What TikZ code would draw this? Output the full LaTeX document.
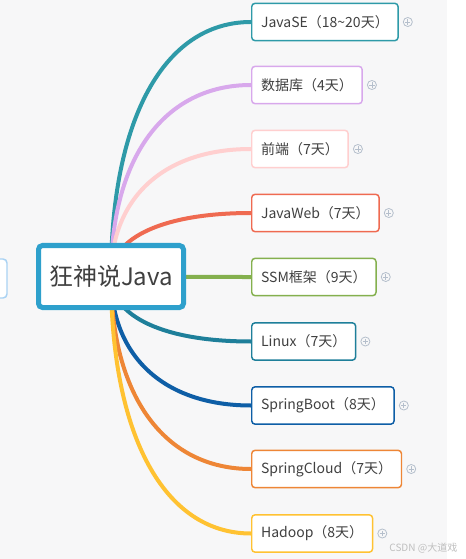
\documentclass[tikz,border=0pt]{standalone}
\usepackage{fontspec}
\setmainfont{Noto Sans CJK SC}
\usetikzlibrary{calc}

\definecolor{bgGray}{HTML}{F7F7F8}
\definecolor{txtGray}{HTML}{404040}
\definecolor{iconGray}{HTML}{B5BFCC}
\definecolor{markGray}{HTML}{BFBFBF}
\definecolor{rootBlue}{HTML}{2EA0CC}
\definecolor{leftBlue}{HTML}{A9D2F3}
\definecolor{cJavaSE}{HTML}{2E9AA8}
\definecolor{cDB}{HTML}{D8A8EC}
\definecolor{cFront}{HTML}{FFCFCF}
\definecolor{cWeb}{HTML}{EF6A51}
\definecolor{cSSM}{HTML}{84B04E}
\definecolor{cLinux}{HTML}{1E7F9A}
\definecolor{cBoot}{HTML}{0E5EA6}
\definecolor{cCloud}{HTML}{EE8636}
\definecolor{cHadoop}{HTML}{FFC232}

\pgfdeclarelayer{back}
\pgfdeclarelayer{edges}
\pgfsetlayers{back,edges,main}

\tikzset{
  topic/.style={draw=#1, line width=1.1pt, rounded corners=2.5pt, fill=white,
    anchor=west, minimum height=28pt, inner xsep=7pt, text=txtGray,
    font=\fontsize{10.5pt}{12pt}\selectfont},
  branch/.style={draw=#1, line width=3pt, line cap=round},
  plusicon/.style={draw=iconGray, line width=0.6pt}
}

\begin{document}
\begin{tikzpicture}[x=0.75pt, y=-0.75pt]
  \useasboundingbox (0,0) rectangle (466,559);

  % 背景
  \begin{pgfonlayer}{back}
    \fill[white] (0,0) rectangle (466,559);
    \fill[bgGray] (0,0) rectangle (447,559);
  \end{pgfonlayer}

  % 左边露出的一小块节点
  \begin{scope}
    \clip (0,0) rectangle (466,559);
    \draw[leftBlue, line width=1.1pt, rounded corners=3pt, fill=white] (-20,259) rectangle (7,298);
  \end{scope}

  % 中心主题
  \node[draw=rootBlue, line width=3.75pt, rounded corners=3pt, fill=white,
        minimum width=108.75pt, minimum height=46.5pt, text=txtGray,
        font=\fontsize{18pt}{21pt}\selectfont] (root) at (111,276.5) {狂神说Java};

  % 各分支：节点、曲线、右侧的小加号
  \foreach \name/\y/\col/\txt in {
      javase/22/cJavaSE/{JavaSE（18\textasciitilde 20天）},
      db/85/cDB/{数据库（4天）},
      front/149/cFront/{前端（7天）},
      web/213/cWeb/{JavaWeb（7天）},
      ssm/277/cSSM/{SSM框架（9天）},
      linux/341.5/cLinux/{Linux（7天）},
      boot/405.5/cBoot/{SpringBoot（8天）},
      cloud/469/cCloud/{SpringCloud（7天）},
      hadoop/533.5/cHadoop/{Hadoop（8天）}}
  {
    \node[topic=\col] (\name) at (251,\y) {\txt};
    \coordinate (\name-knee) at (root.center |- \name.west);
    \begin{pgfonlayer}{edges}
      \draw[branch=\col] (root.center)
        .. controls ($(root.center)!0.62!(\name-knee)$) and ($(\name.west)!0.62!(\name-knee)$)
        .. (\name.west);
    \end{pgfonlayer}
    \coordinate (\name-plus) at ($(\name.east)+(9,0)$);
    \draw[plusicon] (\name-plus) circle (3.4pt);
    \draw[plusicon] ($(\name-plus)+(-2.6,0)$) -- ($(\name-plus)+(2.6,0)$);
    \draw[plusicon] ($(\name-plus)+(0,-2.6)$) -- ($(\name-plus)+(0,2.6)$);
  }

  % 水印
  \node[anchor=east, text=markGray, font=\fontsize{7.5pt}{8pt}\selectfont] (mark) at (462,548) {CSDN @大道戏};
\end{tikzpicture}
\end{document}
